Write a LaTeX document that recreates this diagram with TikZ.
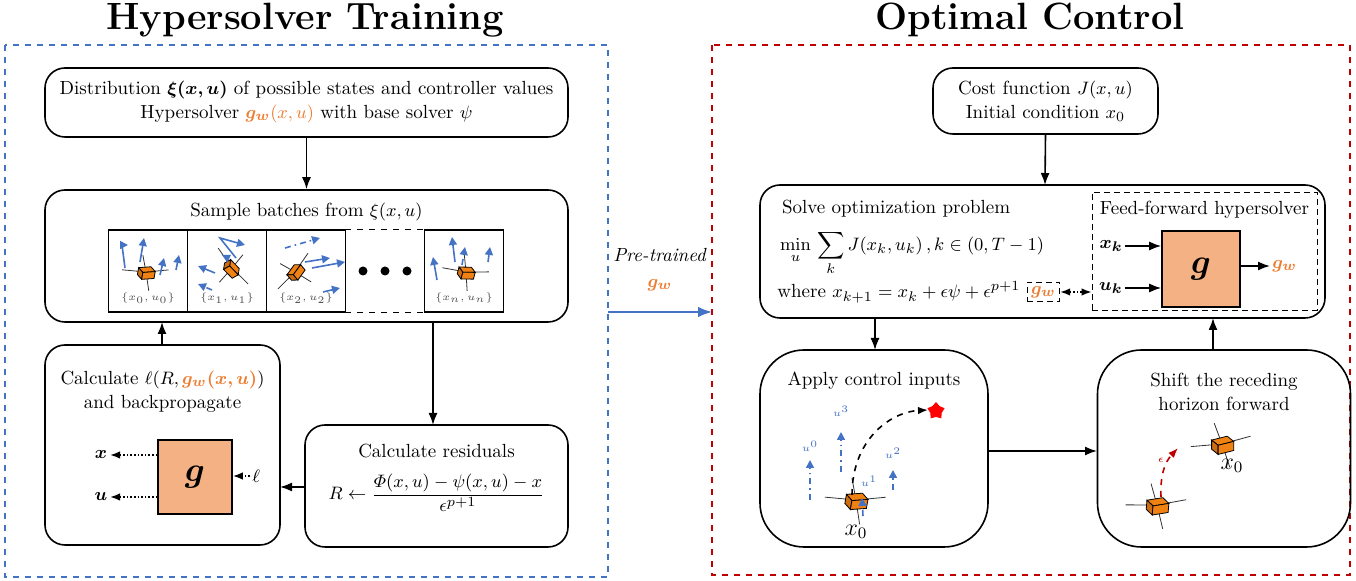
\documentclass[tikz,border=0pt]{standalone}
\usepackage{amsmath,amssymb,bm}
\usetikzlibrary{arrows.meta,shapes.geometric}
\definecolor{bblue}{RGB}{68,114,196}
\definecolor{rred}{RGB}{192,0,0}
\definecolor{gorange}{RGB}{244,177,131}
\definecolor{worange}{RGB}{237,125,49}
\definecolor{dorange}{RGB}{240,130,20}
\tikzset{
 rbox/.style={draw,thick,rounded corners=10pt},
 rbigbox/.style={draw,thick,rounded corners=22pt},
 conn/.style={-{Latex[length=6pt]},thick},
 dconn/.style={-{Latex[length=5pt]},thick,densely dotted},
 txt/.style={font=\fontsize{9.5}{12}\selectfont,align=center},
 ttl/.style={font=\fontsize{19}{22}\selectfont\bfseries},
 gbox/.style={draw,thick,fill=gorange,minimum width=37pt,minimum height=37pt,font=\fontsize{16}{18}\selectfont},
 ua/.style={-{Triangle[length=4pt,width=4pt]},bblue,thick,dash dot},
 cell/.style={draw,thick,minimum width=39.5pt,minimum height=41pt,inner sep=0pt},
 lab/.style={font=\fontsize{5}{6}\selectfont,text=black!70},
 xlab/.style={font=\fontsize{12}{14}\selectfont},
}
\newcommand\gw{\textcolor{worange}{\bm{g_w}}}
\newcommand\mydrone[3]{%
 \begin{scope}[shift={(#1)},rotate=#2,scale=#3]
  \draw[black!80] (-24,2)--(0,0)--(22,-6);
  \draw[black!80] (-6,-16)--(0,0)--(6,18);
  \draw[fill=dorange,draw=black,line width=0.4pt] (-8,-3)--(4,-6)--(9,-2)--(-3,1)--cycle;
  \draw[fill=dorange!85!black,draw=black,line width=0.4pt] (-8,-3)--(-3,1)--(-3,8)--(-8,4)--cycle;
  \draw[fill=dorange,draw=black,line width=0.4pt] (-3,1)--(9,-2)--(9,5)--(-3,8)--cycle;
 \end{scope}}
\begin{document}
\begin{tikzpicture}[x=0.5pt,y=-0.5pt]
\useasboundingbox (0,0) rectangle (1356,581);
% titles
\node[ttl] (t1) at (305,20) {Hypersolver Training};
\node[ttl] (t2) at (1030,20) {Optimal Control};
\draw[bblue,thick,dashed] (5,45) rectangle (608,577);
\draw[rred,thick,dashed] (712,45) rectangle (1350,575);
% left boxes
\node[rbox,minimum width=261.5pt,minimum height=34.5pt,txt] (b1) at (306.5,102.5)
 {Distribution $\bm{\xi(x,u)}$ of possible states and controller values\\Hypersolver $\gw\textcolor{worange}{(x,u)}$ with base solver $\psi$};
\node[rbox,minimum width=261.5pt,minimum height=66pt] (b2) at (306.5,256) {};
\node[txt] (b2t) at (306.5,212) {Sample batches from $\xi(x,u)$};
\foreach \i/\lb in {0/{x_0,u_0},1/{x_1,u_1},2/{x_2,u_2},4/{x_n,u_n}}{
 \node[cell] (c\i) at (148+79*\i,271) {};
 \node[lab] (l\i) at (148+79*\i,298) {$\{\lb\}$};
}
\node[minimum width=39.5pt,minimum height=41pt,inner sep=0pt] (c3) at (385,271) {};
\draw[thick,dashed] (c3.north west)--(c3.north east) (c3.south west)--(c3.south east);
\foreach \dx in {-22,0,22} \fill (385+\dx,271) circle (4.5);
% sample drones
\mydrone{146,272}{-10}{1}
\draw[ua,solid] (125,268)--(122,245)--(128,245); \draw[ua,solid] (140,262)--(144,238);
\draw[ua,solid] (160,275)--(164,258); \draw[ua,solid] (176,270)--(179,255);
\mydrone{232,268}{-60}{1}
\draw[ua,solid] (236,258)--(220,238)--(245,245); \draw[ua,solid] (215,273)--(198,266);
\draw[ua] (212,290)--(198,284); \draw[ua] (228,258)--(222,255);
\mydrone{295,272}{40}{1}
\draw[ua] (285,248)--(320,238); \draw[ua,solid] (305,262)--(330,258); \draw[ua,solid] (312,268)--(345,262);
\draw[ua,solid] (323,292)--(340,288);
\mydrone{466,272}{-15}{1}
\draw[ua,solid] (437,280)--(433,257); \draw[ua,solid] (455,262)--(452,237); \draw[ua] (462,265)--(465,247); \draw[ua,solid] (488,262)--(490,247);
% box3
\node[rbox,minimum width=117.5pt,minimum height=100pt] (b3) at (162.5,445) {};
\node[txt] (b3t) at (162.5,392) {Calculate $\ell(R,\gw\textcolor{worange}{\bm{(x,u)}})$\\and backpropagate};
\node[gbox] (g1) at (195,477) {$\bm g$};
\coordinate (xo) at (110,455); \coordinate (uo) at (110,497); \coordinate (li) at (250,476);
\draw[dconn] (g1.west|-xo)--(xo) node[left,txt,inner sep=1pt] {$\bm x$};
\draw[dconn] (g1.west|-uo)--(uo) node[left,txt,inner sep=1pt] {$\bm u$};
\draw[dconn] (li)--(g1.east|-li);
\node[txt,right,inner sep=1pt] (ll) at (li) {$\ell$};
% box4
\node[rbox,minimum width=131.5pt,minimum height=61pt] (b4) at (436.5,486) {};
\node[txt] (b4t) at (436.5,451) {Calculate residuals};
\node[txt] (b4f) at (436.5,493) {$R\leftarrow\dfrac{\varPhi(x,u)-\psi(x,u)-x}{\epsilon^{p+1}}$};
% left arrows
\draw[conn] (b1.south)--(b2.north);
\draw[conn] (433,322)--(433,425);
\draw[conn] (305,487)--(280,487);
\draw[conn] (162,345)--(162,322);
% middle
\coordinate (ms) at (608,312); \coordinate (me) at (712,312);
\draw[-{Latex[length=7pt]},bblue,thick] (ms)--(me);
\node[txt] (pt) at (660,270) {\textit{Pre-trained}\\[1pt] $\gw$};
% right boxes
\node[rbox,minimum width=112.5pt,minimum height=33pt,txt] (b5) at (1045.5,101) {Cost function $J(x,u)$\\Initial condition $x_0$};
\node[rbox,minimum width=282.5pt,minimum height=66.5pt] (b6) at (1042.5,251.5) {};
\node[txt,anchor=west] (b6t) at (775,209) {Solve optimization problem};
\node[txt,anchor=west] (mn) at (773,253) {$\displaystyle\min_u\,\sum_k J(x_k,u_k)\,,k\in(0,T-1)$};
\node[txt,anchor=west,inner sep=1pt] (wh) at (775,292) {where $x_{k+1}=x_k+\epsilon\psi+\epsilon^{p+1}$};
\node[draw,densely dashed,inner sep=2pt,txt,anchor=west] (gs) at ([xshift=2pt]wh.east) {$\gw$};
\node[draw,densely dashed,minimum width=112.5pt,minimum height=59pt] (ff) at (1204.5,251) {};
\node[txt] (fft) at (1204.5,210) {Feed-forward hypersolver};
\draw[{Latex[length=5pt]}-{Latex[length=5pt]},thick,densely dotted] (gs.east)--(ff.west|-gs);
\node[gbox,minimum width=39pt,minimum height=38pt] (g2) at (1201,269) {$\bm g$};
\coordinate (xk) at (1125,246); \coordinate (uk) at (1125,288); \coordinate (go) at (1270,266);
\draw[conn] (xk)--(g2.west|-xk); \node[txt,left,inner sep=1pt] (xkl) at (xk) {$\bm{x_k}$};
\draw[conn] (uk)--(g2.west|-uk); \node[txt,left,inner sep=1pt] (ukl) at (uk) {$\bm{u_k}$};
\draw[conn] (g2.east|-go)--(go); \node[txt,right,inner sep=1pt] (gol) at (go) {$\gw$};
\node[rbigbox,minimum width=114pt,minimum height=98.5pt] (b7) at (874,448.5) {};
\node[txt] (b7t) at (874,381) {Apply control inputs};
\node[rbigbox,minimum width=126.5pt,minimum height=98.5pt] (b8) at (1224,448.5) {};
\node[txt] (b8t) at (1224,392) {Shift the receding\\horizon forward};
\draw[conn] (b5.south)--(1045,185);
\draw[conn] (875,318)--(875,350);
\draw[conn] (988,451)--(1097,451);
\draw[conn] (1213,350)--(1213,318);
% box7 content
\draw[ua] (810,500)--(810,460); \node[lab,text=bblue] (u0) at (810,446) {$u^0$};
\draw[ua] (841,472)--(841,432); \node[lab,text=bblue] (u3) at (841,411) {$u^3$};
\draw[ua] (893,490)--(893,470); \node[lab,text=bblue] (u2) at (893,453) {$u^2$};
\mydrone{856,500}{-10}{1.3}
\draw[ua] (863,516)--(862,498); \node[lab,text=bblue] (u1) at (869,481) {$u^1$};
\draw[-{Latex[length=5pt]},thick,dashed] (852,495) .. controls (852,440) and (890,412) .. (928,410);
\node[star,star points=5,fill=red,inner sep=0pt,minimum size=9pt] (st) at (936,411) {};
\node[xlab] (x0a) at (856,532) {$x_0$};
% box8 content
\mydrone{1222,444}{0}{1.3}
\node[xlab] (x0b) at (1232,466) {$x_0$};
\mydrone{1157,505}{-5}{1.3}
\draw[-{Latex[length=5pt]},rred,thick,dashed] (1161,497) .. controls (1160,475) and (1165,462) .. (1178,448);
\node[lab,text=rred] (ep) at (1161,460) {$\epsilon$};
\end{tikzpicture}
\end{document}
